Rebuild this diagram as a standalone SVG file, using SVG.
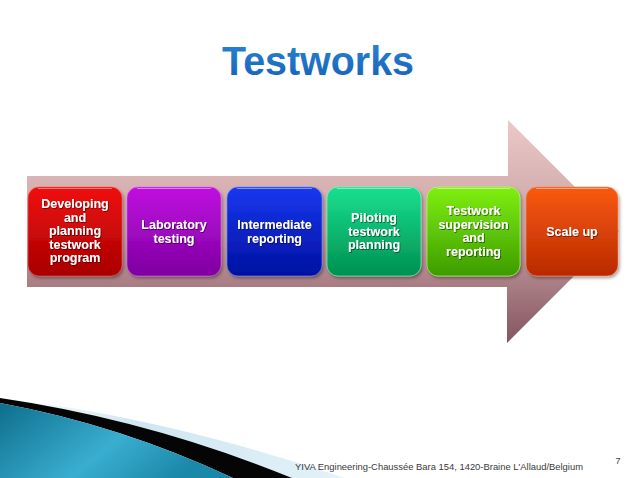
<svg xmlns="http://www.w3.org/2000/svg" width="638" height="478" viewBox="0 0 638 478">
<defs>
<style>
.lbl{font-family:"Liberation Sans","DejaVu Sans",sans-serif;font-weight:bold;font-size:12.5px;fill:#ffffff;text-anchor:middle;filter:url(#ts)}
.box{stroke-width:1}
.hl{fill:none;stroke:#ffffff;stroke-opacity:0.45;stroke-width:1.2}
</style>
<filter id="ts" x="-10%" y="-30%" width="120%" height="160%"><feDropShadow dx="0.8" dy="0.8" stdDeviation="0.6" flood-color="#000" flood-opacity="0.6"/></filter>
<filter id="bs" x="-10%" y="-10%" width="125%" height="125%"><feDropShadow dx="1.5" dy="2" stdDeviation="1.5" flood-color="#000" flood-opacity="0.35"/></filter>
<linearGradient id="arr" x1="0" y1="120" x2="0" y2="343" gradientUnits="userSpaceOnUse"><stop offset="0" stop-color="#ecc8c8"/><stop offset="0.5" stop-color="#c9a2a4"/><stop offset="1" stop-color="#845560"/></linearGradient>
<linearGradient id="g1" x1="0" y1="0" x2="0" y2="1"><stop offset="0" stop-color="#f01010"/><stop offset="1" stop-color="#a80000"/></linearGradient>
<linearGradient id="g2" x1="0" y1="0" x2="0" y2="1"><stop offset="0" stop-color="#c010e0"/><stop offset="1" stop-color="#7e00a0"/></linearGradient>
<linearGradient id="g3" x1="0" y1="0" x2="0" y2="1"><stop offset="0" stop-color="#1838f0"/><stop offset="1" stop-color="#0010a0"/></linearGradient>
<linearGradient id="g4" x1="0" y1="0" x2="0" y2="1"><stop offset="0" stop-color="#18e090"/><stop offset="1" stop-color="#009050"/></linearGradient>
<linearGradient id="g5" x1="0" y1="0" x2="0" y2="1"><stop offset="0" stop-color="#80f010"/><stop offset="1" stop-color="#3c9c00"/></linearGradient>
<linearGradient id="g6" x1="0" y1="0" x2="0" y2="1"><stop offset="0" stop-color="#fa5a10"/><stop offset="1" stop-color="#b82a00"/></linearGradient>
<linearGradient id="teal" x1="0" y1="0" x2="1" y2="0.4"><stop offset="0" stop-color="#0e6e8c"/><stop offset="0.6" stop-color="#3aaed0"/><stop offset="1" stop-color="#1a88a8"/></linearGradient>
<linearGradient id="lb" x1="0" y1="0" x2="1" y2="0"><stop offset="0" stop-color="#d4eaf4" stop-opacity="0"/><stop offset="0.4" stop-color="#cfe6f2"/><stop offset="1" stop-color="#e4f2f8"/></linearGradient>
<linearGradient id="tg" x1="0" y1="0" x2="0" y2="1"><stop offset="0" stop-color="#2a86d8"/><stop offset="1" stop-color="#1460b4"/></linearGradient>
</defs>
<rect width="638" height="478" fill="#ffffff"/>
<text x="318" y="75" font-family="Liberation Sans, DejaVu Sans, sans-serif" font-weight="bold" font-size="41" fill="url(#tg)" text-anchor="middle" textLength="192" lengthAdjust="spacingAndGlyphs">Testworks</text>
<g id="connectors">
<path d="M27,176 L508,176 L508,120 L619,231 L507,343 L507,287 L27,287 Z" fill="url(#arr)"/>
</g>
<g id="n1" filter="url(#bs)"><rect x="28" y="187" width="94" height="89" rx="11" fill="url(#g1)" stroke="#ff6060" stroke-opacity="0.5"/><path class="hl" d="M38,188.5 H112"/><text class="lbl"><tspan x="75" y="208">Developing</tspan><tspan x="75" y="221.5">and</tspan><tspan x="75" y="235">planning</tspan><tspan x="75" y="248.5">testwork</tspan><tspan x="75" y="262">program</tspan></text></g>
<g id="n2" filter="url(#bs)"><rect x="127" y="187" width="94" height="89" rx="11" fill="url(#g2)" stroke="#e070ff" stroke-opacity="0.5"/><path class="hl" d="M137,188.5 H211"/><text class="lbl"><tspan x="174" y="229">Laboratory</tspan><tspan x="174" y="242.5">testing</tspan></text></g>
<g id="n3" filter="url(#bs)"><rect x="227" y="187" width="95" height="89" rx="11" fill="url(#g3)" stroke="#7090ff" stroke-opacity="0.6"/><path class="hl" d="M237,188.5 H312"/><text class="lbl"><tspan x="274.5" y="229">Intermediate</tspan><tspan x="274.5" y="242.5">reporting</tspan></text></g>
<g id="n4" filter="url(#bs)"><rect x="327" y="187" width="94" height="89" rx="11" fill="url(#g4)" stroke="#80ffd0" stroke-opacity="0.6"/><path class="hl" d="M337,188.5 H411"/><text class="lbl"><tspan x="374" y="222">Piloting</tspan><tspan x="374" y="235.5">testwork</tspan><tspan x="374" y="249">planning</tspan></text></g>
<g id="n5" filter="url(#bs)"><rect x="427" y="187" width="93" height="89" rx="11" fill="url(#g5)" stroke="#c0ff80" stroke-opacity="0.6"/><path class="hl" d="M437,188.5 H510"/><text class="lbl"><tspan x="473.5" y="215">Testwork</tspan><tspan x="473.5" y="228.5">supervision</tspan><tspan x="473.5" y="242">and</tspan><tspan x="473.5" y="255.5">reporting</tspan></text></g>
<g id="n6" filter="url(#bs)"><rect x="526" y="187" width="92" height="89" rx="11" fill="url(#g6)" stroke="#ff9060" stroke-opacity="0.6"/><path class="hl" d="M536,188.5 H608"/><text class="lbl"><tspan x="572" y="236">Scale up</tspan></text></g>
<path d="M0,398 Q160,416 345,478 L292,478 Q150,420 0,398 Z" fill="url(#lb)"/>
<path d="M0,398 Q150,420 292,478 L233,478 Q120,425 0,403 Z" fill="#050505"/>
<path d="M0,403 Q120,425 233,478 L0,478 Z" fill="url(#teal)"/>
<text x="295" y="470" font-family="Liberation Sans, DejaVu Sans, sans-serif" font-size="9" fill="#3a3a3a" textLength="288" lengthAdjust="spacingAndGlyphs">YIVA Engineering-Chaussée Bara 154, 1420-Braine L'Allaud/Belgium</text>
<text x="618" y="464" font-family="Liberation Sans, DejaVu Sans, sans-serif" font-size="9" fill="#3a3a3a" text-anchor="middle">7</text>
</svg>
